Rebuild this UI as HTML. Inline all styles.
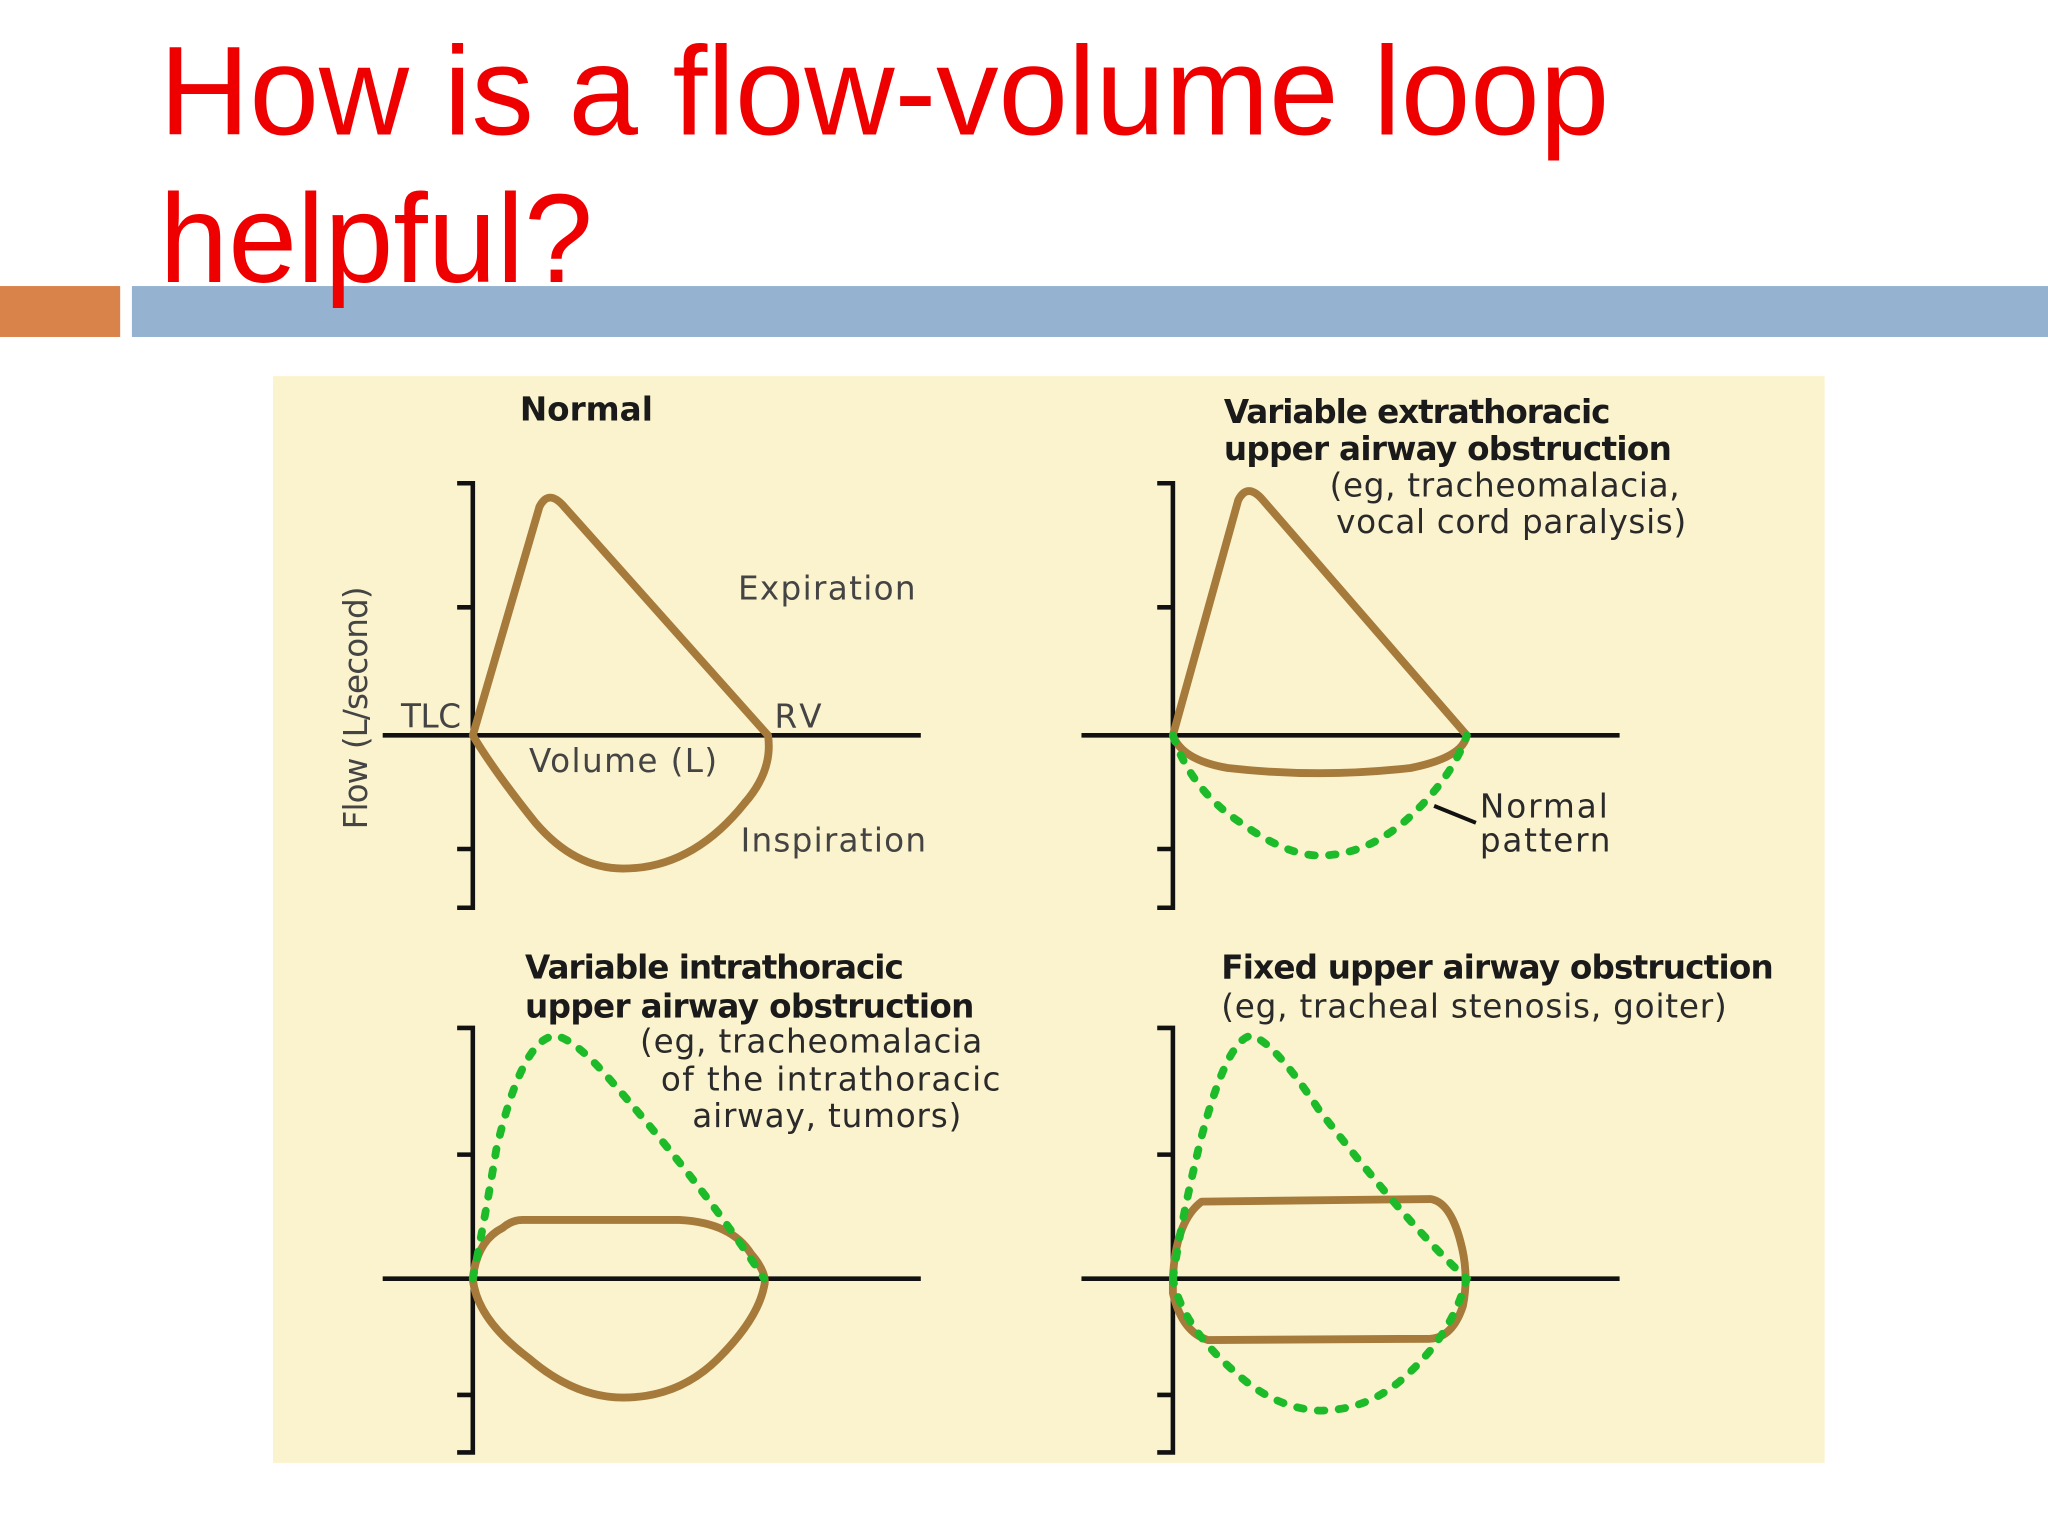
<!DOCTYPE html>
<html><head><meta charset="utf-8"><style>
html,body{margin:0;padding:0;background:#fff;width:2048px;height:1536px;overflow:hidden}
svg{display:block}
.t{font-family:"DejaVu Sans","Liberation Sans",sans-serif;fill:#2a2a2a;font-size:25px}
.b{font-weight:bold;fill:#1a1a1a}
.l{font-family:"DejaVu Sans","Liberation Sans",sans-serif;fill:#444;font-size:25px}
</style></head><body>
<svg width="2048" height="1536" viewBox="0 0 1568 1176" preserveAspectRatio="none" xmlns="http://www.w3.org/2000/svg">
<rect x="0" y="0" width="1568" height="1176" fill="#fff"/>
<rect x="0" y="219" width="92" height="39" fill="#d9834b"/>
<rect x="101" y="219" width="1467" height="39" fill="#95b3d1"/>
<text x="122" y="103" font-family="Liberation Sans, sans-serif" font-size="97" fill="#ee0000" textLength="1110" lengthAdjust="spacingAndGlyphs">How is a flow-volume loop</text>
<text x="122" y="216" font-family="Liberation Sans, sans-serif" font-size="97" fill="#ee0000" textLength="332" lengthAdjust="spacingAndGlyphs">helpful?</text>
<rect x="209" y="288" width="1188" height="832" fill="#fbf3cd"/>

<g stroke="#111" stroke-width="3.5" fill="none">
<path d="M350 370 H362 V695 H350"/><path d="M350 465H362M350 650H362"/>
<path d="M293 563 H705"/>
<path d="M886 370 H898 V695 H886"/><path d="M886 465H898M886 650H898"/>
<path d="M828 563 H1240"/>
<path d="M350 787 H362 V1112 H350"/><path d="M350 884H362M350 1068H362"/>
<path d="M293 979 H705"/>
<path d="M886 787 H898 V1112 H886"/><path d="M886 884H898M886 1068H898"/>
<path d="M828 979 H1240"/>
<path d="M1098 617 L1130 630" stroke-width="3"/>
</g>

<g stroke="#a67a3b" stroke-width="6" fill="none" stroke-linejoin="round" stroke-linecap="round">
<path d="M362 563 L413 388 Q420 374 432 388 L588 563 Q592 590 570 615 Q530 665 477 665 Q440 665 410 630 Q378 590 362 563 Z"/>
<path d="M898 563 L948 383 Q955 369 967 383 L1123 563 Q1120 580 1080 588 Q1010 596 940 588 Q905 582 898 563 Z"/>
<path d="M362 979 Q365 950 385 940 Q392 934 400 934 L520 934 Q560 936 575 960 Q588 975 585 985 Q580 1010 550 1040 Q520 1070 477 1070 Q440 1070 405 1040 Q365 1010 362 979 Z"/>
<path d="M898 979 Q900 935 920 920 L1095 918 Q1110 920 1118 950 Q1125 975 1120 1000 Q1112 1024 1095 1025 L925 1026 Q905 1020 898 990 Z"/>
</g>

<g stroke="#1dbb2a" stroke-width="6" fill="none" stroke-dasharray="5 11" stroke-linecap="round">
<path d="M898 563 Q912 605 950 630 Q985 655 1010 655 Q1050 655 1085 620 Q1113 592 1123 563"/>
<path d="M362 979 Q370 940 380 880 Q400 795 425 793 Q440 795 470 830 Q540 910 585 979"/>
<path d="M898 979 Q905 930 920 870 Q940 795 958 793 Q975 797 1010 850 Q1080 940 1123 979 Q1112 1020 1080 1050 Q1050 1080 1010 1080 Q975 1078 945 1050 Q905 1015 898 979"/>
</g>

<text class="t b" x="398" y="322">Normal</text>
<text class="l" x="565" y="459" textLength="136">Expiration</text>
<text class="l" x="307" y="557" textLength="46">TLC</text>
<text class="l" x="593" y="557" textLength="36">RV</text>
<text class="l" x="405" y="591" textLength="144">Volume (L)</text>
<text class="l" x="567" y="652" textLength="142">Inspiration</text>
<text class="l" transform="translate(281,635) rotate(-90)" textLength="186">Flow (L/second)</text>

<text class="t b" x="937" y="324" textLength="296">Variable extrathoracic</text>
<text class="t b" x="937" y="352" textLength="343">upper airway obstruction</text>
<text class="t" x="1018" y="380" textLength="268">(eg, tracheomalacia,</text>
<text class="t" x="1023" y="408" textLength="268">vocal cord paralysis)</text>
<text class="t" x="1133" y="626" textLength="98">Normal</text>
<text class="t" x="1133" y="652" textLength="100">pattern</text>

<text class="t b" x="402" y="749" textLength="290">Variable intrathoracic</text>
<text class="t b" x="402" y="779" textLength="344">upper airway obstruction</text>
<text class="t" x="490" y="806" textLength="262">(eg, tracheomalacia</text>
<text class="t" x="506" y="835" textLength="260">of the intrathoracic</text>
<text class="t" x="530" y="863" textLength="206">airway, tumors)</text>

<text class="t b" x="935" y="749" textLength="423">Fixed upper airway obstruction</text>
<text class="t" x="935" y="779" textLength="387">(eg, tracheal stenosis, goiter)</text>
</svg>
</body></html>
